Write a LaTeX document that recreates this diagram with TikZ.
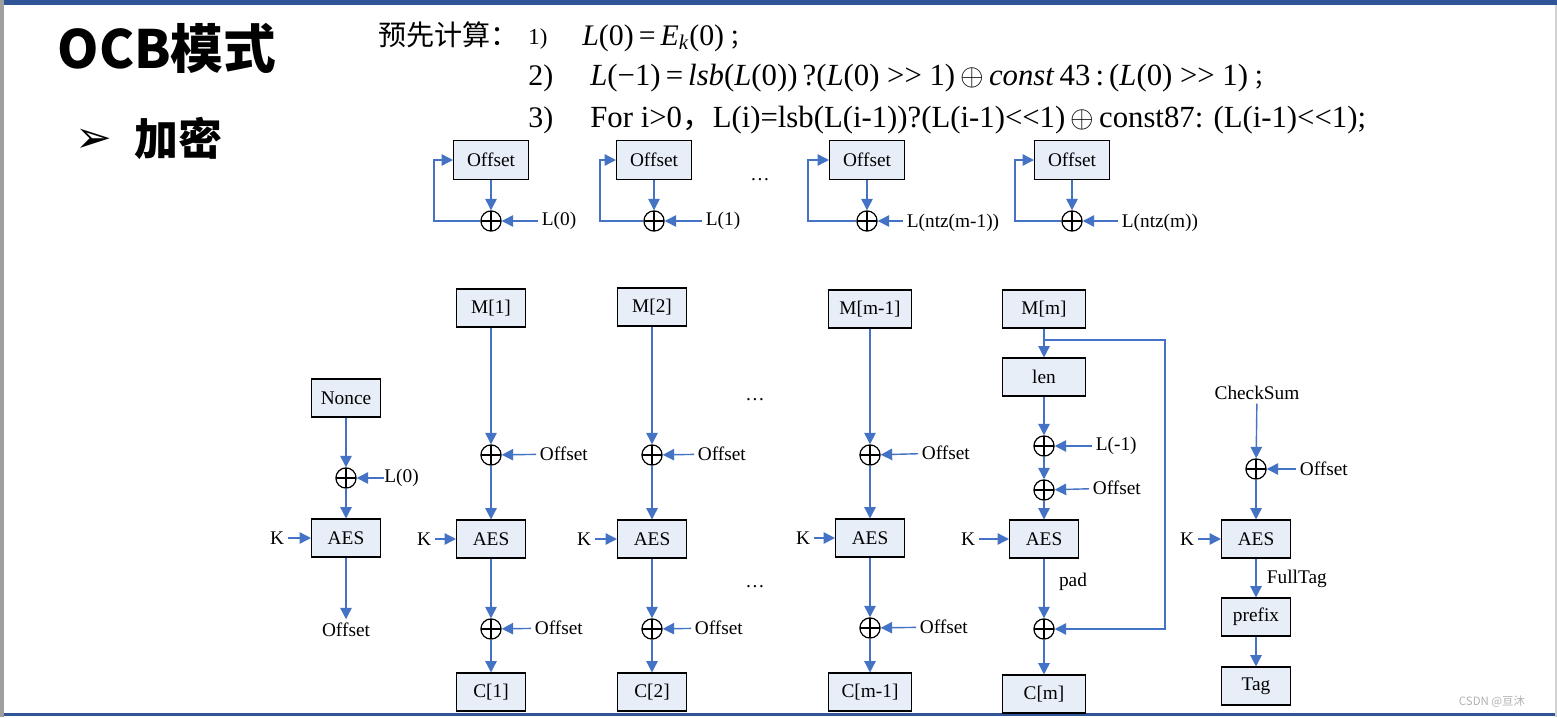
\documentclass[tikz,border=0pt]{standalone}
\usepackage{fontspec}
\setmainfont{Liberation Serif}
\newfontfamily\cjk{Noto Sans CJK SC}
\newfontfamily\symb{DejaVu Sans}
\usepackage{tikz}
\usetikzlibrary{arrows.meta}
\definecolor{barblue}{RGB}{47,85,151}
\definecolor{lineblue}{RGB}{68,114,196}
\definecolor{boxfill}{RGB}{232,238,247}

\begin{document}
\begin{tikzpicture}[x=0.02cm,y=-0.02cm,font=\fontsize{11}{13}\selectfont]
    %
    % `box' is used for all rectangles (Offset, M, AES, C ...).
    % `xor' is the circled plus, `arr' the blue arrows.
    % `lab' is used for the small texts beside the arrows.
    \tikzstyle{box} = [draw,fill=boxfill,line width=0.6pt,minimum width=1.38cm,minimum height=0.76cm,inner sep=1pt]
    \tikzstyle{widebox} = [box,minimum width=1.66cm]
    \tikzstyle{topbox} = [box,minimum width=1.5cm,minimum height=0.78cm]
    \tikzstyle{xor} = [draw,shape=circle,line width=0.7pt,minimum size=11.5pt,inner sep=0pt,path picture={\draw[line width=0.7pt] (path picture bounding box.south) -- (path picture bounding box.north) (path picture bounding box.west) -- (path picture bounding box.east);}]
    \tikzstyle{lab} = [inner sep=2pt]
    \tikzstyle{arr} = [color=lineblue,line width=0.8pt,-{Triangle[length=6.5pt,width=6.5pt]}]
    \tikzstyle{head} = [anchor=base west,inner sep=0pt]
    %
    % Slide frame
    \useasboundingbox (0,0) rectangle (1557,717);
    \fill[white] (0,0) rectangle (1557,717);
    \fill[barblue] (0,0) rectangle (1557,5);
    \fill[gray!75] (0,0) rectangle (4,717);
    \fill[gray!35] (1555,5) rectangle (1557,717);
    \fill[barblue] (4,713) rectangle (1555,716);
    %
    % Title
    \node[font=\cjk\bfseries\fontsize{30}{30}\selectfont] (title) at (167,48) {OCB模式};
    \node[font=\symb\fontsize{25}{25}\selectfont] (bullet) at (94,141) {➢};
    \node[font=\cjk\bfseries\fontsize{25}{25}\selectfont] (enc) at (178,138) {加密};
    %
    % Precomputation
    \node[head,font=\cjk\fontsize{16}{16}\selectfont] (pre) at (378,45) {预先计算：};
    \node[head,font=\fontsize{13}{13}\selectfont] (n1) at (528,44) {1)};
    \node[head,font=\fontsize{17}{17}\selectfont] (f1) at (582,45) {\textit{L}(0)\,=\,\textit{E}\textsubscript{\textit{k}}(0)\,{\cjk\fontsize{13}{13}\selectfont ；}};
    \node[head,font=\fontsize{17}{17}\selectfont] (n2) at (528,85) {2)};
    \node[head,font=\fontsize{17.5}{17}\selectfont] (f2) at (590,85) {\textit{L}(−1)\,=\,\textit{lsb}(\textit{L}(0))\,?(\textit{L}(0) >{}> 1)\,$\oplus$\,\textit{const}\,43\,:\,(\textit{L}(0) >{}> 1)\,{\cjk\fontsize{13}{13}\selectfont ；}};
    \node[head,font=\fontsize{17}{17}\selectfont] (n3) at (528,127) {3)};
    \node[head,font=\fontsize{17.5}{17}\selectfont] (f3) at (590,127) {For i>0{\cjk ，}L(i)=lsb(L(i-1))?(L(i-1)<{}<1)\,$\oplus$\,const87: (L(i-1)<{}<1);};
    %
    % Offset update, column 1
    \node[topbox] (off1) at (491,160) {Offset};
    \node[xor] (ox1) at (491,221) {};
    \node[lab,anchor=west] (l1) at (538,221) {L(0)};
    \coordinate (lp1) at (434,221);
    \draw[arr] (off1) -- (ox1);
    \draw[arr] (l1) -- (ox1);
    \draw[arr] (ox1) -- (lp1) |- (off1.west);
    %
    % Offset update, column 2
    \node[topbox] (off2) at (654,160) {Offset};
    \node[xor] (ox2) at (654,221) {};
    \node[lab,anchor=west] (l2) at (702,221) {L(1)};
    \coordinate (lp2) at (600,221);
    \draw[arr] (off2) -- (ox2);
    \draw[arr] (l2) -- (ox2);
    \draw[arr] (ox2) -- (lp2) |- (off2.west);
    %
    \node (tdots) at (760,180) {…};
    %
    % Offset update, column 3
    \node[topbox] (off3) at (867,160) {Offset};
    \node[xor] (ox3) at (867,221) {};
    \node[lab,anchor=west] (l3) at (903,223) {L(ntz(m-1))};
    \coordinate (lp3) at (808,221);
    \draw[arr] (off3) -- (ox3);
    \draw[arr] (l3.west |- ox3) -- (ox3);
    \draw[arr] (ox3) -- (lp3) |- (off3.west);
    %
    % Offset update, column 4
    \node[topbox] (off4) at (1072,160) {Offset};
    \node[xor] (ox4) at (1072,221) {};
    \node[lab,anchor=west] (l4) at (1118,223) {L(ntz(m))};
    \coordinate (lp4) at (1015,221);
    \draw[arr] (off4) -- (ox4);
    \draw[arr] (l4.west |- ox4) -- (ox4);
    \draw[arr] (ox4) -- (lp4) |- (off4.west);
    %
    % Nonce
    \node[box] (nonce) at (346,398) {Nonce};
    \node[xor] (nx) at (346,478) {};
    \node[lab,anchor=west,inner sep=0pt] (nl) at (384,478) {L(0)};
    \node[box] (naes) at (346,538) {AES};
    \node[lab] (nk) at (277,538) {K};
    \node[lab] (noff) at (346,630) {Offset};
    \draw[arr] (nonce) -- (nx);
    \draw[arr] (nl) -- (nx);
    \draw[arr] (nx) -- (naes);
    \draw[arr] (nk) -- (naes);
    \draw[arr] (naes) -- (noff);
    %
    % Block 1
    \node[box] (m1) at (491,308) {M[1]};
    \node[xor] (x1a) at (491,455) {};
    \node[lab,anchor=west] (o1a) at (536,454) {Offset};
    \node[box] (aes1) at (491,539) {AES};
    \node[lab] (k1) at (424,539) {K};
    \node[xor] (x1b) at (491,629) {};
    \node[lab,anchor=west] (o1b) at (531,628) {Offset};
    \node[box] (c1) at (491,692) {C[1]};
    \draw[arr] (m1) -- (x1a);
    \draw[arr] (o1a) -- (x1a);
    \draw[arr] (x1a) -- (aes1);
    \draw[arr] (k1) -- (aes1);
    \draw[arr] (aes1) -- (x1b);
    \draw[arr] (o1b) -- (x1b);
    \draw[arr] (x1b) -- (c1);
    %
    % Block 2
    \node[box] (m2) at (652,307) {M[2]};
    \node[xor] (x2a) at (652,455) {};
    \node[lab,anchor=west] (o2a) at (694,454) {Offset};
    \node[box] (aes2) at (652,539) {AES};
    \node[lab] (k2) at (584,539) {K};
    \node[xor] (x2b) at (652,629) {};
    \node[lab,anchor=west] (o2b) at (691,628) {Offset};
    \node[box] (c2) at (652,692) {C[2]};
    \draw[arr] (m2) -- (x2a);
    \draw[arr] (o2a) -- (x2a);
    \draw[arr] (x2a) -- (aes2);
    \draw[arr] (k2) -- (aes2);
    \draw[arr] (aes2) -- (x2b);
    \draw[arr] (o2b) -- (x2b);
    \draw[arr] (x2b) -- (c2);
    %
    \node (mdots1) at (755,400) {…};
    \node (mdots2) at (755,587) {…};
    %
    % Block m-1
    \node[widebox] (mm1) at (870,309) {M[m-1]};
    \node[xor] (xm1a) at (870,455) {};
    \node[lab,anchor=west] (om1a) at (918,453) {Offset};
    \node[box] (aesm1) at (870,538) {AES};
    \node[lab] (km1) at (803,538) {K};
    \node[xor] (xm1b) at (870,628) {};
    \node[lab,anchor=west] (om1b) at (916,627) {Offset};
    \node[widebox] (cm1) at (870,692) {C[m-1]};
    \draw[arr] (mm1) -- (xm1a);
    \draw[arr] (om1a) -- (xm1a);
    \draw[arr] (xm1a) -- (aesm1);
    \draw[arr] (km1) -- (aesm1);
    \draw[arr] (aesm1) -- (xm1b);
    \draw[arr] (om1b) -- (xm1b);
    \draw[arr] (xm1b) -- (cm1);
    %
    % Block m
    \node[widebox] (mm) at (1044,309) {M[m]};
    \coordinate (split) at (1044,340);
    \coordinate (rc) at (1165,340);
    \node[widebox] (len) at (1044,377) {len};
    \node[xor] (xma) at (1044,446) {};
    \node[lab,anchor=west] (lm) at (1092,446) {L(-1)};
    \node[xor] (xmb) at (1044,490) {};
    \node[lab,anchor=west] (omb) at (1089,488) {Offset};
    \node[box] (aesm) at (1044,539) {AES};
    \node[lab] (km) at (968,539) {K};
    \node[xor] (xmc) at (1044,629) {};
    \node[lab] (pad) at (1073,582) {pad};
    \node[widebox] (cm) at (1044,694) {C[m]};
    \draw[color=lineblue,line width=0.8pt] (mm) -- (split);
    \draw[arr] (split) -- (len);
    \draw[arr] (split) -- (rc) |- (xmc);
    \draw[arr] (len) -- (xma);
    \draw[arr] (lm) -- (xma);
    \draw[arr] (xma) -- (xmb);
    \draw[arr] (omb) -- (xmb);
    \draw[arr] (xmb) -- (aesm);
    \draw[arr] (km) -- (aesm);
    \draw[arr] (aesm) -- (xmc);
    \draw[arr] (xmc) -- (cm);
    %
    % Tag
    \node[lab] (cs) at (1257,393) {CheckSum};
    \node[xor] (xt) at (1256,469) {};
    \node[lab,anchor=west] (ot) at (1296,469) {Offset};
    \node[box] (aest) at (1256,539) {AES};
    \node[lab] (kt) at (1187,539) {K};
    \node[lab,anchor=west] (ft) at (1263,579) {FullTag};
    \node[box] (prefix) at (1256,617) {prefix};
    \node[box] (tag) at (1256,686) {Tag};
    \draw[arr] (cs) -- (xt);
    \draw[arr] (ot) -- (xt);
    \draw[arr] (xt) -- (aest);
    \draw[arr] (kt) -- (aest);
    \draw[arr] (aest) -- (prefix);
    \draw[arr] (prefix) -- (tag);
    %
    \node[text=gray!60,font=\cjk\fontsize{6.5}{7}\selectfont] (wm) at (1492,702) {CSDN @亘沐};
    %
\end{tikzpicture}
\end{document}
